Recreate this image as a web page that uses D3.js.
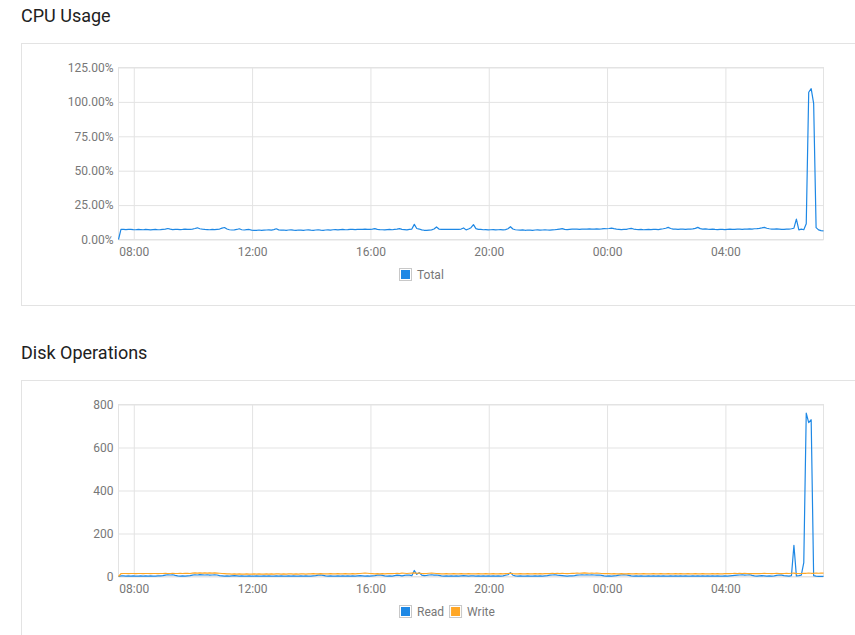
<!DOCTYPE html>
<html>
<head>
<meta charset="utf-8">
<script src="https://cdn.jsdelivr.net/npm/d3@7"></script>
<style>
  html, body { margin: 0; padding: 0; background: #ffffff; }
  svg { display: block; font-family: Roboto, "Noto Sans", sans-serif; }
</style>
</head>
<body>
<svg id="chart" width="855" height="635"></svg>
<script>
// Samples are taken every 5 minutes, starting at 07:29.
const sampleStart = new Date(2024, 0, 1, 7, 29);
const sampleStepMinutes = 5;

// CPU usage, percent of one core.
const cpuTotal = [
  0, 7.3, 7.4, 7.2, 7.3, 7.4, 7.2, 7.1, 7.3, 7.2, 7.1, 7.3,
  7.2, 7.0, 7.2, 7.3, 7.1, 7.2, 7.4, 7.6, 8.0, 7.5, 7.2, 7.3,
  7.4, 7.2, 7.3, 7.5, 7.4, 7.3, 7.6, 8.0, 8.5, 7.8, 7.5, 7.3,
  7.2, 7.1, 7.3, 7.2, 7.4, 7.6, 8.3, 8.7, 7.6, 7.1, 6.9, 7.0,
  7.3, 7.8, 7.1, 6.9, 7.2, 7.3, 6.8, 6.6, 6.7, 6.9, 6.7, 6.8,
  6.9, 7.0, 6.8, 7.2, 7.8, 7.0, 6.8, 6.9, 6.7, 6.9, 7.0, 6.8,
  6.7, 6.9, 6.8, 6.6, 6.9, 7.0, 6.8, 6.7, 6.9, 7.1, 6.8, 6.7,
  6.9, 7.0, 6.8, 7.1, 7.2, 7.0, 7.2, 7.3, 7.1, 7.2, 7.4, 7.3,
  7.2, 7.4, 7.3, 7.4, 7.5, 7.3, 7.4, 7.6, 7.9, 7.4, 7.2, 7.1,
  7.0, 7.2, 7.3, 7.1, 7.3, 7.5, 7.9, 7.4, 7.2, 7.0, 7.3, 7.6,
  11.0, 8.0, 7.6, 7.0, 6.7, 6.6, 6.8, 7.0, 7.6, 9.1, 7.6, 7.3,
  7.3, 7.4, 7.3, 7.4, 7.3, 7.4, 7.3, 7.6, 8.4, 7.0, 7.6, 8.6,
  10.8, 7.9, 7.4, 7.3, 7.1, 7.2, 7.0, 7.1, 7.2, 7.0, 7.1, 7.2,
  7.0, 7.2, 7.8, 9.3, 7.6, 7.1, 6.9, 6.8, 7.0, 6.7, 6.9, 6.8,
  6.7, 6.9, 7.0, 6.8, 6.9, 7.1, 6.9, 6.8, 7.0, 7.1, 7.3, 7.6,
  7.9, 7.4, 7.2, 7.4, 7.5, 7.6, 7.5, 7.4, 7.6, 7.5, 7.6, 7.7,
  7.6, 7.5, 7.7, 7.6, 7.7, 7.9, 7.8, 8.0, 8.3, 7.9, 7.6, 7.4,
  7.2, 7.3, 7.4, 7.8, 8.1, 7.6, 7.3, 7.2, 7.3, 7.1, 7.2, 7.3,
  7.2, 7.4, 7.3, 7.2, 7.5, 7.8, 8.2, 8.8, 8.0, 7.6, 7.5, 7.4,
  7.6, 7.5, 7.4, 7.6, 7.5, 7.7, 8.1, 8.8, 7.9, 7.6, 7.7, 7.5,
  7.4, 7.6, 7.3, 7.2, 7.4, 7.3, 7.2, 7.4, 7.5, 7.3, 7.4, 7.6,
  7.5, 7.4, 7.6, 7.5, 7.7, 7.6, 7.8, 7.9, 8.1, 8.4, 8.8, 8.2,
  7.8, 7.6, 7.5, 7.7, 7.6, 7.4, 7.3, 7.5, 7.6, 7.8, 8.2, 14.8,
  7.0, 7.5, 7.1, 11.5, 107.0, 109.6, 99.0, 8.6, 7.0, 6.5, 6.3
];

// Disk operations per sample.
const diskRead = [
  0, 3, 3, 2, 3, 2, 3, 2, 2, 3, 2, 3,
  2, 3, 2, 2, 3, 3, 4, 6, 8, 7, 8, 5,
  3, 2, 3, 2, 3, 4, 6, 8, 7, 9, 8, 7,
  8, 6, 7, 8, 7, 4, 3, 2, 3, 2, 3, 4,
  3, 2, 3, 2, 2, 3, 2, 2, 3, 2, 2, 3,
  2, 3, 2, 2, 3, 2, 3, 2, 2, 3, 2, 3,
  2, 2, 3, 2, 3, 2, 2, 3, 4, 6, 7, 5,
  3, 2, 3, 2, 2, 3, 2, 3, 2, 3, 2, 3,
  2, 3, 4, 3, 2, 3, 2, 3, 4, 6, 7, 5,
  3, 2, 3, 2, 4, 6, 5, 3, 5, 7, 6, 4,
  28, 10, 18, 6, 4, 5, 7, 8, 6, 7, 5, 3,
  2, 3, 2, 3, 2, 3, 2, 3, 4, 3, 2, 3,
  3, 2, 3, 2, 3, 2, 3, 2, 3, 2, 3, 2,
  3, 6, 8, 18, 6, 3, 2, 3, 2, 2, 3, 2,
  2, 3, 2, 3, 2, 3, 4, 6, 7, 8, 6, 5,
  4, 3, 2, 3, 3, 4, 6, 7, 8, 7, 8, 7,
  8, 7, 6, 7, 5, 3, 2, 3, 2, 3, 4, 6,
  7, 8, 7, 5, 3, 2, 3, 2, 3, 2, 2, 3,
  2, 3, 2, 3, 2, 3, 2, 2, 3, 2, 3, 2,
  3, 2, 3, 2, 2, 3, 2, 3, 2, 3, 2, 3,
  2, 3, 2, 3, 2, 2, 3, 2, 3, 4, 5, 6,
  7, 8, 6, 7, 8, 5, 3, 2, 3, 4, 3, 2,
  3, 2, 3, 5, 7, 6, 4, 3, 2, 4, 145, 3,
  4, 6, 65, 760, 716, 729, 4, 2, 1, 1, 1
];

const diskWrite = [
  0, 13, 14, 14, 13, 14, 14, 13, 14, 14, 13, 14,
  14, 13, 14, 14, 13, 14, 14, 15, 14, 14, 15, 14,
  14, 15, 14, 15, 15, 14, 16, 17, 16, 17, 16, 17,
  16, 17, 16, 17, 16, 15, 14, 13, 12, 12, 11, 12,
  11, 12, 11, 11, 12, 11, 11, 12, 11, 12, 11, 11,
  12, 11, 12, 11, 12, 12, 11, 12, 11, 12, 12, 11,
  12, 11, 12, 12, 11, 12, 12, 13, 12, 12, 13, 12,
  12, 12, 13, 12, 12, 13, 12, 12, 13, 12, 12, 13,
  12, 13, 14, 15, 16, 15, 14, 13, 12, 13, 12, 13,
  12, 13, 14, 13, 14, 15, 14, 16, 15, 14, 15, 16,
  17, 15, 16, 14, 13, 14, 15, 16, 15, 14, 13, 12,
  12, 13, 12, 12, 13, 12, 12, 13, 12, 12, 13, 12,
  12, 12, 13, 12, 12, 13, 12, 12, 13, 12, 12, 13,
  12, 13, 14, 15, 13, 12, 12, 13, 12, 12, 13, 12,
  12, 13, 12, 13, 12, 13, 13, 14, 15, 14, 15, 14,
  15, 14, 13, 14, 15, 15, 16, 15, 16, 17, 16, 15,
  16, 15, 16, 15, 14, 13, 14, 13, 12, 13, 12, 12,
  13, 12, 12, 13, 12, 12, 13, 12, 12, 13, 12, 12,
  12, 13, 12, 12, 13, 12, 12, 13, 12, 12, 13, 12,
  13, 12, 12, 13, 12, 12, 13, 12, 12, 13, 12, 12,
  12, 13, 12, 13, 12, 12, 13, 14, 13, 14, 15, 14,
  15, 14, 15, 14, 13, 14, 13, 14, 13, 14, 15, 14,
  14, 13, 14, 15, 14, 13, 14, 15, 14, 15, 16, 13,
  14, 14, 15, 15, 16, 15, 15, 16, 15, 16, 16
];

// Axis ticks
const cpuTicks = [0, 25, 50, 75, 100, 125];
const diskTicks = [0, 200, 400, 600, 800];
const timeTickEveryHours = 4;

const COLORS = { read: "#1e88e5", write: "#ffa726", total: "#1e88e5" };
const GRID = "#e3e3e3";
const LABEL = "#777777";

const svg = d3.select("#chart");
const times = cpuTotal.map((_, i) => d3.timeMinute.offset(sampleStart, i * sampleStepMinutes));

const plotLeft = 118.5, plotRight = 823.5, plotHeight = 172;

const x = d3.scaleTime()
  .domain([times[0], times[times.length - 1]])
  .range([plotLeft, plotRight]);

function panel(opts) {
  const g = svg.append("g");
  const top = opts.top;

  // section heading
  g.append("text")
    .attr("x", 21).attr("y", top - 21)
    .attr("fill", "#212121")
    .style("font-size", "18px")
    .text(opts.title);

  // card outline
  g.append("rect")
    .attr("x", 21.5).attr("y", top + 0.5)
    .attr("width", 880).attr("height", 262)
    .attr("fill", "none").attr("stroke", GRID);

  const plotTop = top + 24.5, plotBottom = plotTop + plotHeight;
  const y = d3.scaleLinear().domain(opts.domain).range([plotBottom, plotTop]);

  const yAxis = g.append("g")
    .attr("transform", `translate(${plotLeft},0)`)
    .call(d3.axisLeft(y).tickValues(opts.ticks).tickFormat(opts.format)
      .tickSize(-(plotRight - plotLeft)).tickPadding(5));
  yAxis.select(".domain").remove();
  yAxis.selectAll("line").attr("stroke", GRID);
  yAxis.selectAll("text").attr("fill", LABEL)
    .style("font-size", "12px").style("font-family", "Roboto, sans-serif");

  const xAxis = g.append("g")
    .attr("transform", `translate(0,${plotBottom})`)
    .call(d3.axisBottom(x).ticks(d3.timeHour.every(timeTickEveryHours))
      .tickFormat(d3.timeFormat("%H:%M"))
      .tickSize(-plotHeight).tickPadding(7.5));
  xAxis.select(".domain").remove();
  xAxis.selectAll("line").attr("stroke", GRID);
  xAxis.selectAll("text").attr("fill", LABEL)
    .style("font-size", "12px").style("font-family", "Roboto, sans-serif");

  // plot frame
  g.append("rect")
    .attr("x", plotLeft).attr("y", plotTop)
    .attr("width", plotRight - plotLeft).attr("height", plotHeight)
    .attr("fill", "none").attr("stroke", GRID);

  const line = d3.line()
    .x((d, i) => x(times[i]))
    .y(d => y(d));

  opts.series.forEach(s => {
    g.append("path")
      .datum(s.values)
      .attr("fill", "none")
      .attr("stroke", s.color)
      .attr("stroke-width", 1.2)
      .attr("stroke-linejoin", "round")
      .attr("d", line);
  });

  // legend
  const legendY = plotBottom + 35;
  let lx = 399.5;
  opts.series.forEach(s => {
    const item = g.append("g");
    item.append("rect")
      .attr("x", lx).attr("y", legendY - 6)
      .attr("width", 12).attr("height", 12)
      .attr("fill", "#fff").attr("stroke", "#c8c8c8");
    item.append("rect")
      .attr("x", lx + 1.5).attr("y", legendY - 4.5)
      .attr("width", 9).attr("height", 9)
      .attr("fill", s.color);
    const t = item.append("text")
      .attr("x", lx + 17.5).attr("y", legendY)
      .attr("dy", "0.35em")
      .attr("fill", LABEL)
      .style("font-size", "12px")
      .text(s.name);
    lx += 17.5 + t.node().getComputedTextLength() + 5.5;
  });
}

panel({
  title: "CPU Usage",
  top: 43,
  domain: [0, 125],
  ticks: cpuTicks,
  format: d => d.toFixed(2) + "%",
  series: [{ name: "Total", values: cpuTotal, color: COLORS.total }]
});

panel({
  title: "Disk Operations",
  top: 380,
  domain: [0, 800],
  ticks: diskTicks,
  format: d3.format("d"),
  series: [
    { name: "Read", values: diskRead, color: COLORS.read },
    { name: "Write", values: diskWrite, color: COLORS.write }
  ]
});
</script>
</body>
</html>
